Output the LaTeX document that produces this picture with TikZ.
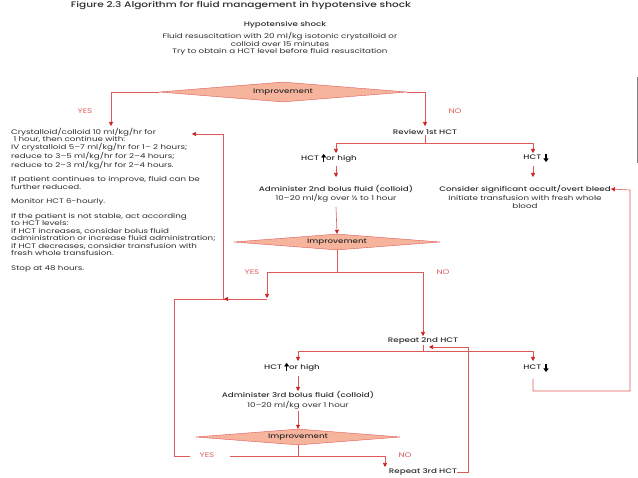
\documentclass[tikz,border=0pt]{standalone}
\usepackage{fontspec}
\setmainfont{Poppins}[BoldFont={Poppins Medium},FakeStretch=1.32]
\usetikzlibrary{shapes.geometric,arrows.meta}
\definecolor{ln}{RGB}{222,90,90}
\definecolor{tip}{RGB}{205,30,30}
\definecolor{dfill}{RGB}{245,180,155}
\definecolor{txt}{RGB}{45,45,45}
\newcommand{\myup}{\tikz[baseline=0pt]\draw[black,line width=1.4pt,-{Triangle[length=3.5pt,width=5pt]}] (0,-1pt)--(0,7pt);}
\newcommand{\mydown}{\tikz[baseline=0pt]\draw[black,line width=1.4pt,-{Triangle[length=3.5pt,width=5pt]}] (0,6pt)--(0,-2pt);}
\tikzset{
 every node/.style={text=txt,inner sep=0pt},
 l/.style={draw=ln,line width=0.6pt},
 a/.style={l,-{Triangle[length=4pt,width=4pt,color=tip]}},
 dia/.style={diamond,draw=ln,fill=dfill,line width=0.4pt,aspect=12,inner sep=0pt},
 t/.style={font=\fontsize{6.6}{8}\selectfont,align=center},
 tb/.style={font=\fontsize{6.6}{8}\selectfont\bfseries,align=center},
 yn/.style={font=\fontsize{6.6}{8}\selectfont,text=ln},
}
\begin{document}
\begin{tikzpicture}[x=1pt,y=-1pt]
\useasboundingbox (0,0) rectangle (638,478);
\node[font=\fontsize{8}{9}\selectfont\bfseries] (title) at (241,6) {Figure 2.3 Algorithm for fluid management in hypotensive shock};
\node[tb] (hs) at (285,25) {Hypotensive shock};
\node[t] (fr) at (280,39) {Fluid resuscitation with 20 ml/kg isotonic crystalloid or\\colloid over 15 minutes};
\node[t] (try) at (280,52) {Try to obtain a HCT level before fluid resuscitation};
% diamond 1
\node[dia,minimum width=248,minimum height=20] (d1) at (283,92) {};
\node[tb] at (d1) {Improvement};
\node[yn] (y1) at (85,111) {YES};
\node[yn] (n1) at (455,111) {NO};
\node[font=\fontsize{6.6}{7.5}\selectfont,anchor=north west,align=left] (lt) at (11,128) {Crystalloid/colloid 10 ml/kg/hr for\\
\ 1 hour, then continue with:\\
IV crystalloid 5--7 ml/kg/hr for 1-- 2 hours;\\
reduce to 3--5 ml/kg/hr for 2--4 hours;\\
reduce to 2--3 ml/kg/hr for 2--4 hours.\\[7pt]
If patient continues to improve, fluid can be\\
further reduced.\\[7pt]
Monitor HCT 6-hourly.\\[7pt]
If the patient is not stable, act according\\
to HCT levels:\\
if HCT increases, consider bolus fluid\\
administration or increase fluid administration;\\
if HCT decreases, consider transfusion with\\
fresh whole transfusion.\\[7pt]
Stop at 48 hours.};
\coordinate (ltin) at (192,134);
\node[tb] (r1) at (425,132) {Review 1st HCT};
\draw[a] (d1.west) -| (111,126);
\draw[a] (d1.east) -| (425,126);
% split 1
\coordinate (s1) at (425,143);
\draw[l] (r1.south) -- (s1);
\draw[a] (336,143) -- (336,153);
\draw[a] (533,143) -- (533,153);
\draw[l] (336,143) -- (533,143);
\node[tb] (hu1) at (329,158) {HCT \myup or high};
\node[tb] (hd1) at (536,158) {HCT \mydown};
\draw[a] (336,166) -- (336,177);
\draw[a] (533,166) -- (533,177);
\node[tb] (ad2) at (336,189) {Administer 2nd bolus fluid (colloid)};
\node[t] (ad2b) at (336,198) {10--20 ml/kg over ½ to 1 hour};
\node[tb] (cs) at (525,189) {Consider significant occult/overt bleed};
\node[t] (csb) at (525,202) {Initiate transfusion with fresh whole\\blood};
% diamond 2
\node[dia,minimum width=207,minimum height=16] (d2) at (337,242) {};
\node[tb] at (d2) {Improvement};
\draw[a] (336,207) -- (d2.north);
\coordinate (s2) at (337,272);
\draw[l] (d2.south) -- (s2);
\draw[l] (267,272) -- (423,272);
\node[yn] (y2) at (252,272) {YES};
\node[yn] (n2) at (443,272) {NO};
\draw[a] (267,272) -- (267,298);
\node[tb] (r2) at (423,341) {Repeat 2nd HCT};
\draw[a] (423,272) -- (423,336);
% junction and loop to left text
\draw[l] (174,299) -- (267,299);
\draw[a] (267,299) -- (224,299);
\draw[a] (223,299) -- (223,134) -- (ltin);
% split 2
\draw[l] (r2.south) -- (423,351);
\draw[l] (298,351) -- (533,351);
\draw[a] (298,351) -- (298,361);
\draw[a] (533,351) -- (533,361);
\node[tb] (hu2) at (292,367) {HCT \myup or high};
\node[tb] (hd2) at (536,368) {HCT \mydown};
\draw[a] (298,376) -- (298,391);
\node[tb] (ad3) at (298,395) {Administer 3rd bolus fluid (colloid)};
\node[t] (ad3b) at (298,405) {10--20 ml/kg over 1 hour};
\node[dia,minimum width=205,minimum height=16] (d3) at (298,437) {};
\node[tb] at (d3) {Improvement};
\draw[a] (298,411) -- (d3.north);
\draw[l] (d3.south) -- (298,456);
\node[yn] (y3) at (207,455) {YES};
\node[yn] (n3) at (405,455) {NO};
\draw[l] (174,456) -- (190,456);
\draw[l] (230,456) -- (385,456);
\draw[a] (385,456) -- (385,467);
\draw[l] (174,456) -- (174,299);
\node[tb] (r3) at (423,472) {Repeat 3rd HCT};
\draw[a] (r3.east) -- (468,472) -- (468,347) -- (429,347);
% HCT down 2 loop to bleed
\draw[a] (533,379) -- (533,391) -- (630,391) -- (630,190) -- (cs.east);
\draw[draw=gray,line width=0.5pt] (637,77) -- (637,163);
\end{tikzpicture}
\end{document}
